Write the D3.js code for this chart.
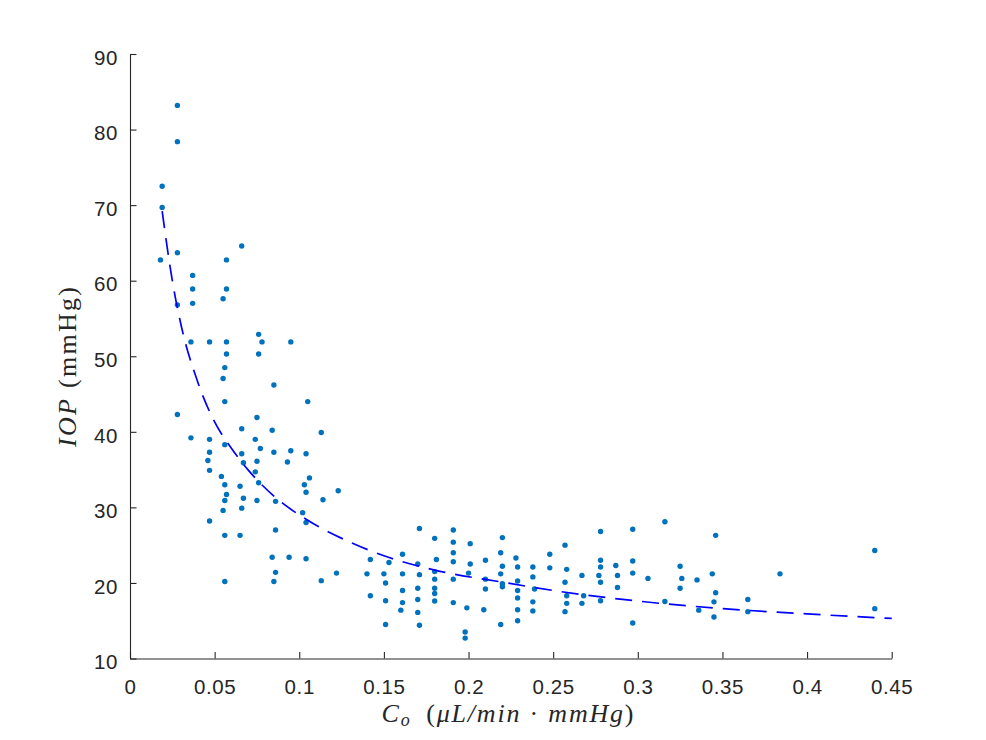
<!DOCTYPE html>
<html>
<head>
<meta charset="utf-8">
<script src="https://cdn.jsdelivr.net/npm/d3@7"></script>
<style>
  html, body { margin: 0; padding: 0; background: #fff; }
  svg { display: block; }
</style>
</head>
<body>
<svg id="chart" width="986" height="740"></svg>
<script>
// ---- data ----
const coX = [
  0.028, 0.028, 0.019, 0.019, 0.066, 0.028, 0.018, 0.057, 0.037, 0.037, 0.057, 0.055, 0.037, 0.028,
  0.076, 0.036, 0.047, 0.057, 0.078, 0.095, 0.057, 0.076, 0.056, 0.055, 0.085, 0.056, 0.105, 0.028,
  0.075, 0.066, 0.084, 0.113, 0.036, 0.047, 0.074, 0.056, 0.077, 0.047, 0.085, 0.095, 0.066, 0.104,
  0.046, 0.075, 0.067, 0.093, 0.047, 0.074, 0.054, 0.106, 0.076, 0.056, 0.065, 0.103, 0.104, 0.123,
  0.057, 0.056, 0.067, 0.075, 0.086, 0.114, 0.055, 0.066, 0.102, 0.104, 0.047, 0.086, 0.056, 0.065,
  0.084, 0.094, 0.104, 0.086, 0.122, 0.056, 0.085, 0.113,
  0.142, 0.140, 0.142,
  0.153, 0.150, 0.151, 0.151, 0.151,
  0.161, 0.161, 0.161, 0.161, 0.160,
  0.171, 0.170, 0.171, 0.170, 0.170, 0.170, 0.171,
  0.180, 0.181, 0.180, 0.180, 0.180, 0.180, 0.180,
  0.191, 0.191, 0.191, 0.191, 0.191, 0.191,
  0.201, 0.201, 0.200, 0.199, 0.198, 0.198,
  0.210, 0.210, 0.210, 0.209,
  0.220, 0.219, 0.220, 0.219, 0.220, 0.220, 0.219,
  0.228, 0.229, 0.229, 0.229, 0.229, 0.229, 0.229,
  0.238, 0.238, 0.239, 0.238, 0.238,
  0.248, 0.248,
  0.257, 0.258, 0.257, 0.258, 0.258, 0.257,
  0.267, 0.268, 0.267,
  0.278, 0.278, 0.278, 0.277, 0.278, 0.278,
  0.287, 0.288, 0.288,
  0.297, 0.297, 0.297, 0.297,
  0.306,
  0.316, 0.316,
  0.325, 0.326, 0.325,
  0.335, 0.336,
  0.346, 0.344, 0.346, 0.345, 0.345,
  0.365, 0.365,
  0.384,
  0.440, 0.440
];
const iopY = [
  83.2, 78.4, 72.5, 69.7, 64.6, 63.7, 62.75, 62.75, 60.7, 58.9, 58.9, 57.6, 57.0, 56.8,
  52.9, 51.9, 51.9, 51.9, 51.9, 51.9, 50.3, 50.3, 48.5, 47.05, 46.2, 44.0, 44.0, 42.3,
  41.9, 40.4, 40.2, 39.9, 39.2, 39.0, 39.0, 38.3, 37.8, 37.3, 37.3, 37.5, 37.1, 37.1,
  36.2, 36.1, 35.9, 36.0, 34.9, 34.7, 34.1, 33.9, 33.25, 33.0, 32.8, 33.0, 32.0, 32.2,
  31.7, 30.9, 31.2, 30.9, 30.8, 31.0, 29.6, 29.9, 29.3, 28.0, 28.2, 27.0, 26.3, 26.3,
  23.4, 23.4, 23.2, 21.4, 21.3, 20.2, 20.2, 20.3,
  23.1, 21.2, 18.3,
  22.7, 21.2, 20.0, 17.65, 14.5,
  23.8, 21.2, 19.0, 17.4, 16.4,
  27.2, 22.5, 21.1, 19.3, 17.8, 16.1, 14.4,
  25.9, 23.1, 21.5, 20.5, 19.3, 18.6, 17.6,
  27.0, 25.4, 24.0, 22.8, 20.5, 17.4,
  25.2, 22.5, 21.3, 16.7, 13.5, 12.7,
  23.0, 20.5, 19.2, 16.45,
  26.0, 24.0, 22.2, 21.2, 19.9, 19.5, 14.5,
  23.3, 22.1, 20.25, 19.0, 18.0, 16.45, 15.0,
  22.1, 20.8, 19.2, 17.5, 16.3,
  23.8, 22.0,
  25.0, 21.8, 20.1, 18.3, 17.3, 16.2,
  21.0, 18.3, 17.3,
  26.8, 23.0, 22.1, 21.0, 20.1, 17.65,
  22.3, 21.0, 19.4,
  27.1, 22.9, 21.3, 14.7,
  20.6,
  28.1, 17.55,
  22.2, 20.6, 19.3,
  20.4, 16.4,
  26.3, 21.2, 18.7, 17.5, 15.5,
  17.8, 16.2,
  21.2,
  24.3, 16.6
];
// fitted curve
const fitX = [0.019, 0.025, 0.030, 0.040, 0.050, 0.060, 0.070, 0.085, 0.105, 0.130, 0.150, 0.180, 0.220, 0.250, 0.300, 0.350, 0.400, 0.450];
const fitY = [69.2, 60.0, 54.3, 46.6, 41.3, 37.8, 34.9, 31.5, 28.3, 25.4, 23.6, 21.7, 20.1, 19.0, 17.6, 16.6, 15.9, 15.3];
const xTicks = [0, 0.05, 0.1, 0.15, 0.2, 0.25, 0.3, 0.35, 0.4, 0.45];
const xTickLabels = ["0", "0.05", "0.1", "0.15", "0.2", "0.25", "0.3", "0.35", "0.4", "0.45"];
const yTicks = [10, 20, 30, 40, 50, 60, 70, 80, 90];
const yTickLabels = ["10", "20", "30", "40", "50", "60", "70", "80", "90"];

// ---- layout ----
const svg = d3.select("#chart");
const plotLeft = 130, plotRight = 891.7, plotTop = 54, plotBottom = 658.5;
const x = d3.scaleLinear().domain([0, 0.45]).range([plotLeft, plotRight]);
const y = d3.scaleLinear().domain([10, 90]).range([plotBottom, plotTop]);
const axisColor = "#262626";
const tickFont = "'Liberation Sans', Arial, Helvetica, sans-serif";
const mathFont = "'Liberation Serif', 'Times New Roman', serif";

// points
const pts = coX.map((v, i) => ({ x: v, y: iopY[i] }));
svg.append("g").selectAll("circle").data(pts).join("circle")
  .attr("cx", d => x(d.x)).attr("cy", d => y(d.y))
  .attr("r", 2.7).attr("fill", "#0072BD");

// fit line
const fit = fitX.map((v, i) => ({ x: v, y: fitY[i] }));
svg.append("path").datum(fit)
  .attr("fill", "none").attr("stroke", "#0000FF").attr("stroke-width", 1.7)
  .attr("stroke-dasharray", "17,10")
  .attr("d", d3.line().x(d => x(d.x)).y(d => y(d.y)).curve(d3.curveMonotoneX));

// axes
const xAxis = d3.axisBottom(x).tickValues(xTicks).tickFormat((d, i) => xTickLabels[i])
  .tickSizeInner(-6.5).tickSizeOuter(0).tickPadding(21);
const gx = svg.append("g").attr("transform", `translate(0,${plotBottom})`).call(xAxis);
const yAxis = d3.axisLeft(y).tickValues(yTicks).tickFormat((d, i) => yTickLabels[i])
  .tickSizeInner(-6.5).tickSizeOuter(0).tickPadding(12);
const gy = svg.append("g").attr("transform", `translate(${plotLeft},0)`).call(yAxis);
[gx, gy].forEach(g => {
  g.select(".domain").attr("stroke", axisColor).attr("stroke-width", 1.1);
  g.selectAll(".tick line").attr("stroke", axisColor).attr("stroke-width", 1.1);
  g.selectAll(".tick text").attr("fill", axisColor)
    .style("font-family", tickFont).style("font-size", "20.5px")
    .style("letter-spacing", "0.6px");
});
gx.selectAll(".tick text").attr("dy", "0.71em");
gy.selectAll(".tick text").attr("dy", "0.5em");

// x label
const xl = svg.append("text")
  .attr("x", 507.5).attr("y", 722)
  .attr("text-anchor", "middle")
  .attr("textLength", 252).attr("lengthAdjust", "spacing")
  .style("font-family", mathFont).style("font-size", "26px").attr("fill", axisColor);
xl.append("tspan").style("font-style", "italic").text("C");
xl.append("tspan").style("font-style", "italic").style("font-size", "18px").attr("dy", 4).text("o");
xl.append("tspan").attr("dy", -4).text("\u2002(");
xl.append("tspan").style("font-style", "italic").text("\u03BCL/min");
xl.append("tspan").text(" \u00B7 ");
xl.append("tspan").style("font-style", "italic").text("mmHg");
xl.append("tspan").text(")");

// y label
const yl = svg.append("text")
  .attr("transform", "translate(76,367) rotate(-90)")
  .attr("text-anchor", "middle")
  .attr("textLength", 160).attr("lengthAdjust", "spacing")
  .style("font-family", mathFont).style("font-size", "26px").attr("fill", axisColor);
yl.append("tspan").style("font-style", "italic").text("IOP");
yl.append("tspan").text(" (mmHg)");
</script>
</body>
</html>
